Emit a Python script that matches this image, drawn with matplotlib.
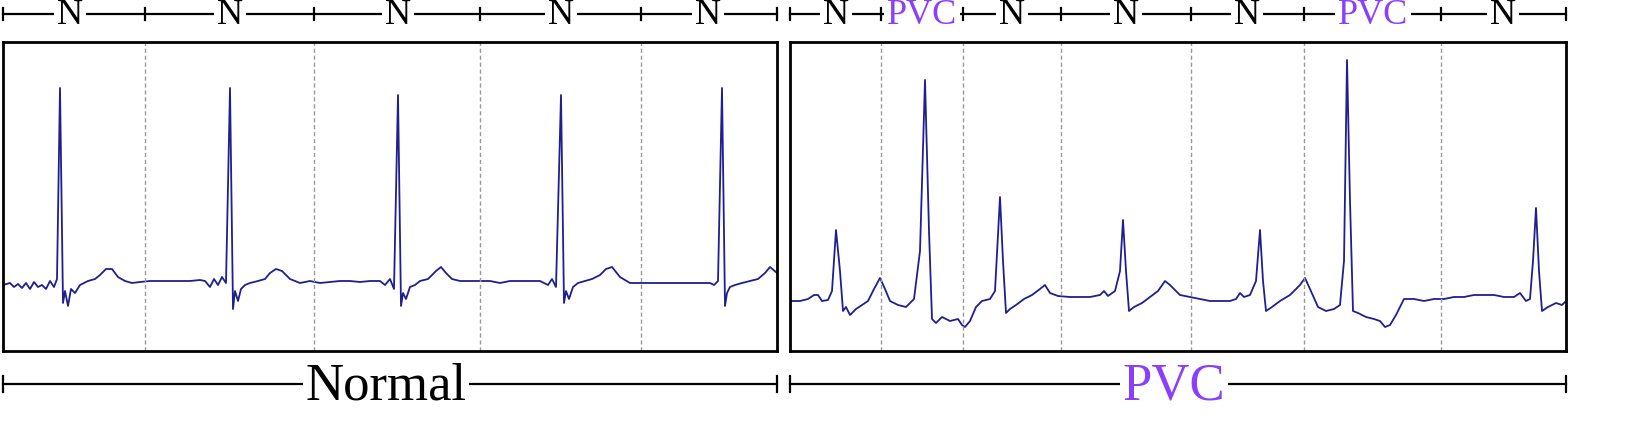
import matplotlib
matplotlib.use("Agg")
import matplotlib.pyplot as plt

W, H = 1649, 430
# ECG keypoints (x in px-like sample units, y amplitude)
left_x = [3,10,14,18,22,26,30,34,38,42,46,50,54,57,60,63,65,68,71,75,80,88,95,100,106,112,118,125,132,140,150,160,170,180,190,200,205,210,214,218,222,226,230,233,235,238,241,245,250,258,265,270,276,282,290,300,310,320,330,340,350,360,370,380,385,390,394,398,401,403,406,410,415,420,428,436,441,446,452,460,470,480,490,500,510,520,530,540,548,552,556,561,564,566,569,573,578,585,592,600,606,612,620,630,640,650,660,670,680,690,700,710,714,718,722,725,727,730,735,742,750,758,765,770,777]
left_y = [66,68,64,67,63,68,62,69,64,66,62,70,64,72,263,48,60,45,62,58,66,70,72,76,82,82,74,70,68,69,70,70,70,70,70,71,70,64,72,66,74,68,263,42,60,50,62,66,68,70,72,78,82,80,72,68,70,68,69,70,70,69,70,70,66,72,62,256,45,58,52,64,66,70,72,80,84,78,72,70,70,70,70,68,70,70,70,70,66,72,64,256,48,60,52,64,68,70,72,76,82,84,74,68,68,68,68,68,68,68,68,68,66,70,263,45,58,64,66,68,70,72,78,84,78]
right_x = [790,800,808,814,818,822,828,832,836,840,843,846,850,856,862,868,874,880,885,890,898,906,914,920,925,929,932,936,942,950,958,962,965,970,976,982,990,995,1000,1003,1006,1010,1016,1024,1032,1040,1045,1050,1058,1070,1080,1090,1100,1104,1108,1115,1120,1123,1126,1129,1134,1142,1150,1158,1165,1170,1180,1190,1200,1210,1220,1230,1236,1240,1244,1250,1256,1260,1263,1266,1272,1280,1290,1300,1305,1310,1318,1326,1334,1340,1344,1347,1350,1353,1358,1366,1374,1380,1385,1390,1396,1404,1414,1424,1434,1444,1454,1464,1474,1484,1494,1504,1514,1520,1526,1530,1533,1536,1539,1542,1548,1556,1562,1566]
right_y = [50,50,52,56,56,50,51,60,121,80,40,44,36,42,46,50,62,73,62,50,46,44,52,100,271,120,32,28,34,30,32,26,24,30,44,50,52,60,154,90,38,42,46,52,56,62,66,58,55,54,54,54,56,60,55,60,80,131,80,40,44,48,54,60,70,66,56,54,52,50,50,50,52,58,54,56,70,121,70,40,44,50,56,66,73,62,44,40,42,46,90,291,150,40,38,34,32,30,24,26,36,52,52,50,52,52,54,54,56,56,56,54,54,58,50,52,90,143,80,40,44,48,46,50]

left_bounds = [3,145,314,480,641,777]
left_labels = ["N","N","N","N","N"]
left_label_x = [70,230,398,561,708]
right_bounds = [790,881,963,1061,1191,1304,1441,1566]
right_labels = ["N","PVC","N","N","N","PVC","N"]
right_label_x = [836,922,1012,1126,1247,1373,1503]
groups = ["Normal","PVC"]

ecg = "#1f1f8f"
purple = "#8a3ffc"
serif = "Liberation Serif"

fig = plt.figure(figsize=(W/100, H/100), dpi=100)

def panel(x0, x1, xs, ys, bounds):
    ax = fig.add_axes([x0/W, (H-351)/H, (x1-x0)/W, 309/H])
    ax.plot(xs, ys, color=ecg, lw=1.3)
    for b in bounds[1:-1]:
        ax.axvline(b, color="#999999", ls=(0,(3,2)), lw=1)
    ax.set_xlim(x0, x1); ax.set_ylim(0, 309)
    ax.set_xticks([]); ax.set_yticks([])
    for s in ax.spines.values():
        s.set_linewidth(2)

panel(3, 777, left_x, left_y, left_bounds)
panel(790, 1566, right_x, right_y, right_bounds)

ov = fig.add_axes([0, 0, 1, 1], zorder=5)
ov.set_xlim(0, W); ov.set_ylim(H, 0); ov.axis("off"); ov.patch.set_alpha(0)

def bracket(bounds, labels, lx, y):
    ov.plot([bounds[0], bounds[-1]], [y, y], color="black", lw=1.6)
    for b in bounds:
        ov.plot([b, b], [y-6, y+6], color="black", lw=1.6)
    for lab, x in zip(labels, lx):
        ov.text(x, y+1, lab, ha="center", va="center", fontsize=26, family=serif,
                color=purple if lab == "PVC" else "black",
                bbox=dict(facecolor="white", edgecolor="none", pad=2))

bracket(left_bounds, left_labels, left_label_x, 14)
bracket(right_bounds, right_labels, right_label_x, 14)

for (a, b), g in zip([(3, 777), (790, 1566)], groups):
    y = 384
    ov.plot([a, b], [y, y], color="black", lw=1.6)
    for e in (a, b):
        ov.plot([e, e], [y-8, y+8], color="black", lw=1.6)
    ov.text((a+b)/2 - 4, y+3, g, ha="center", va="center", fontsize=38, family=serif,
            color=purple if g == "PVC" else "black",
            bbox=dict(facecolor="white", edgecolor="none", pad=2))

fig.savefig("out.png", dpi=100)
